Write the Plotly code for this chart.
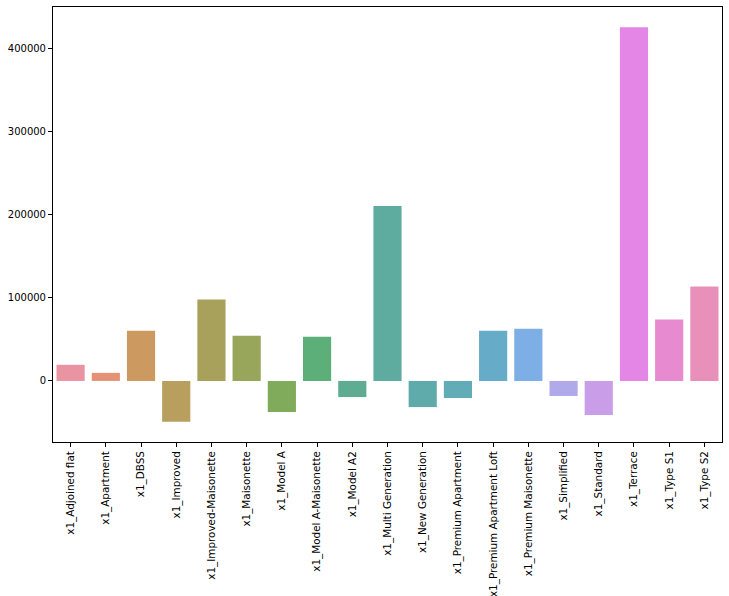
import math
import colorsys
import plotly.graph_objects as go

categories = ["x1_Adjoined flat", "x1_Apartment", "x1_DBSS", "x1_Improved",
              "x1_Improved-Maisonette", "x1_Maisonette", "x1_Model A",
              "x1_Model A-Maisonette", "x1_Model A2", "x1_Multi Generation",
              "x1_New Generation", "x1_Premium Apartment",
              "x1_Premium Apartment Loft", "x1_Premium Maisonette",
              "x1_Simplified", "x1_Standard", "x1_Terrace", "x1_Type S1",
              "x1_Type S2"]
values = [19400, 9700, 60500, -49200, 98000, 54400, -37500, 53200, -19400,
          210500, -31500, -20600, 60500, 62900, -18100, -41100, 425500,
          73800, 113700]
y_ticks = [0, 100000, 200000, 300000, 400000]

# --- husl palette (seaborn style) ---
M = [[3.2406, -1.5372, -0.4986],
     [-0.9689, 1.8758, 0.0415],
     [0.0557, -0.2040, 1.0570]]
refU, refV = 0.19784, 0.46834


def max_chroma(L, H):
    hrad = math.radians(H)
    sinH, cosH = math.sin(hrad), math.cos(hrad)
    sub1 = (L + 16) ** 3 / 1560896.0
    sub2 = sub1 if sub1 > 0.008856 else L / 903.3
    result = float("inf")
    for m1, m2, m3 in M:
        top = (0.99915 * m1 + 1.05122 * m2 + 1.14460 * m3) * sub2
        rb = 0.86330 * m3 - 0.17266 * m2
        lb = 0.12949 * m3 - 0.38848 * m1
        bottom = (rb * sinH + lb * cosH) * sub2
        for t in (0.0, 1.0):
            C = L * (top - 1.05122 * t) / (bottom + 0.17266 * sinH * t)
            if 0.0 < C < result:
                result = C
    return result


def f_inv(t):
    return t ** 3 if t ** 3 > 0.008856 else (116 * t - 16) / 903.3


def from_linear(c):
    return 12.92 * c if c <= 0.0031308 else 1.055 * c ** (1 / 2.4) - 0.055


def husl_to_rgb(H, S, L):
    C = max_chroma(L, H) / 100.0 * S
    hr = math.radians(H)
    U, V = math.cos(hr) * C, math.sin(hr) * C
    varY = f_inv((L + 16) / 116.0)
    varU = U / (13.0 * L) + refU
    varV = V / (13.0 * L) + refV
    Y = varY
    X = -(9.0 * Y * varU) / ((varU - 4.0) * varV - varU * varV)
    Z = (9.0 * Y - 15.0 * varV * Y - varV * X) / (3.0 * varV)
    rgb = [from_linear(r[0] * X + r[1] * Y + r[2] * Z) for r in M]
    return [min(max(c, 0.0), 1.0) for c in rgb]


def husl_palette(n, h=0.01, s=0.9, l=0.65, desat=0.75, fade=0.14):
    out = []
    for i in range(n):
        hue = ((i / n) + h) % 1 * 359
        r, g, b = husl_to_rgb(hue, s * 99, l * 99)
        hh, ll, ss = colorsys.rgb_to_hls(r, g, b)
        r, g, b = colorsys.hls_to_rgb(hh, ll, ss * desat)
        r, g, b = [c + (1 - c) * fade for c in (r, g, b)]
        out.append("rgb(%d,%d,%d)" % (round(r * 255), round(g * 255), round(b * 255)))
    return out


colors = husl_palette(len(categories))

fig = go.Figure(go.Bar(x=categories, y=values, marker_color=colors,
                       marker_line_width=0, width=0.8))

axis_common = dict(showline=True, linecolor="black", linewidth=1, mirror=True,
                   ticks="outside", ticklen=4, tickcolor="black",
                   showgrid=False, zeroline=False, automargin=False)

fig.update_layout(
    width=729, height=596,
    margin=dict(l=53, r=7, t=7, b=154),
    plot_bgcolor="white", paper_bgcolor="white",
    showlegend=False,
    xaxis=dict(range=[-0.5, len(categories) - 0.5], tickangle=-90,
               tickfont=dict(family="DejaVu Sans", size=10.4, color="black"),
               **axis_common),
    yaxis=dict(range=[-73500, 450000], tickvals=y_ticks, tickformat="d",
               tickfont=dict(family="DejaVu Sans", size=10, color="black"),
               **axis_common),
)

fig.write_html("out.html", config={"displayModeBar": False},
               post_script="document.body.style.margin='0';document.body.style.overflow='hidden';")
